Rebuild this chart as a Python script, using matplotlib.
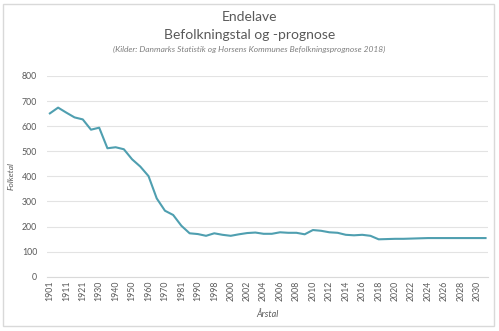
import matplotlib.pyplot as plt
from matplotlib.patches import Rectangle

years = ["1901", "1906", "1911", "1916", "1921", "1925", "1930", "1935", "1940", "1945",
         "1950", "1955", "1960", "1965", "1970", "1976", "1981", "1986", "1990", "1995",
         "1998", "1999"] + [str(y) for y in range(2000, 2032)]
folketal = [651, 674, 654, 635, 627, 586, 594, 512, 516, 508,
            468, 439, 401, 312, 263, 246, 203, 173, 170, 163,
            173, 167, 163, 169, 174, 176, 171, 171, 177, 175,
            175, 169, 186, 183, 177, 175, 167, 165, 167, 163,
            149, 150, 151, 151, 152, 153, 154, 154, 154, 154,
            154, 154, 154, 154]

plt.rcParams['font.family'] = ['Lato', 'DejaVu Sans']
grey = '#595959'

fig = plt.figure(figsize=(4.99, 3.31), dpi=100)
ax = fig.add_axes([47 / 499, 1 - 276.7 / 331, (488 - 47) / 499, (276.7 - 76) / 331])

x = list(range(len(years)))
ax.plot(x, folketal, color='#4F9FB0', lw=1.5, solid_joinstyle='round')

ax.set_ylim(0, 800)
ax.set_yticks(range(0, 801, 100))
ax.set_xlim(-0.35, len(years) - 1 + 0.3)
ax.set_xticks(x[::2])
ax.set_xticklabels(years[::2], rotation=90)
ax.tick_params(axis='both', length=0, labelsize=6.3, colors=grey)
ax.tick_params(axis='y', pad=7)
ax.tick_params(axis='x', pad=3)
ax.grid(axis='y', color='#E3E3E3', lw=0.8)
ax.set_axisbelow(True)
for s in ['top', 'right', 'left']:
    ax.spines[s].set_visible(False)
ax.spines['bottom'].set_color('#D9D9D9')

ax.set_ylabel("Folketal", fontsize=6, style='italic', color=grey, labelpad=5)
ax.set_xlabel("Årstal", fontsize=6.5, style='italic', color=grey, labelpad=6)

fig.text(0.5, 1 - 17 / 331, "Endelave", ha='center', va='center', fontsize=10, color=grey)
fig.text(0.5, 1 - 35 / 331, "Befolkningstal og -prognose", ha='center', va='center',
         fontsize=10, color=grey)
fig.text(0.5, 1 - 49 / 331,
         "(Kilder: Danmarks Statistik og Horsens Kommunes Befolkningsprognose 2018)",
         ha='center', va='center', fontsize=6, style='italic', color='#7F7F7F')

fig.patches.append(Rectangle((3 / 499, 5 / 331), 491 / 499, 322 / 331, transform=fig.transFigure,
                             fill=False, edgecolor='#D9D9D9', lw=1))

fig.savefig("out.png", dpi=100)
